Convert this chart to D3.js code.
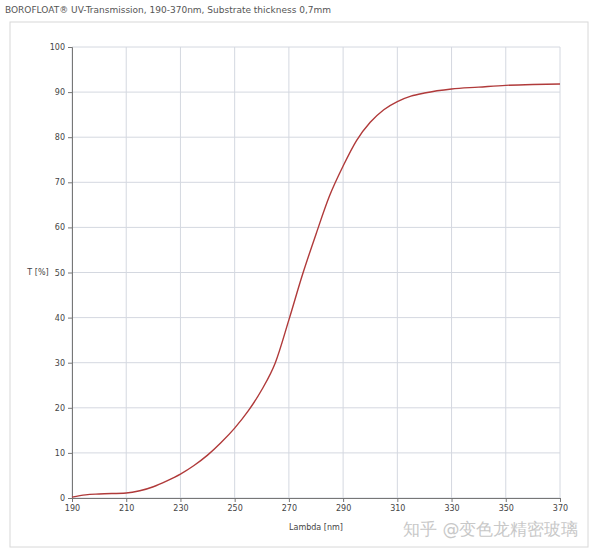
<!DOCTYPE html>
<html><head><meta charset="utf-8">
<script src="https://cdn.jsdelivr.net/npm/d3@7"></script>
<style>body{margin:0;background:#fff}text{font-family:"DejaVu Sans",sans-serif}</style>
</head><body><svg id="c" width="600" height="555"></svg>
<script>
const wavelength=[190,195,200,210,215,220,225,230,235,240,245,250,255,260,265,270,275,280,285,290,295,300,305,310,315,320,330,340,350,360,370];
const transmission=[0.2,0.7,0.9,1.1,1.6,2.5,3.8,5.3,7.2,9.5,12.3,15.5,19.3,24,30,39.5,49.5,58.5,67,73.6,79.3,83.3,86.1,87.9,89.1,89.8,90.7,91.1,91.5,91.7,91.8];
const xTicks=[190,210,230,250,270,290,310,330,350,370];
const yTicks=[0,10,20,30,40,50,60,70,80,90,100];
const svg=d3.select("#c");
svg.append("rect").attr("x",10).attr("y",22).attr("width",578).attr("height",525).attr("fill","none").attr("stroke","#d8d8d8");
svg.append("text").attr("x",5).attr("y",13).attr("font-size",9).attr("fill","#555").text("BOROFLOAT® UV-Transmission, 190-370nm, Substrate thickness 0,7mm");
const x=d3.scaleLinear().domain([190,370]).range([72,560]);
const y=d3.scaleLinear().domain([0,100]).range([498,47]);
const g=svg.append("g");
g.selectAll(".vg").data(xTicks).join("line").attr("x1",d=>x(d)).attr("x2",d=>x(d)).attr("y1",47).attr("y2",498).attr("stroke","#d4d8e0");
g.selectAll(".hg").data(yTicks).join("line").attr("x1",72).attr("x2",560).attr("y1",d=>y(d)).attr("y2",d=>y(d)).attr("stroke","#d4d8e0");
const xa=svg.append("g").attr("transform","translate(0,498)").call(d3.axisBottom(x).tickValues(xTicks).tickSize(4).tickFormat(d3.format("d")));
const ya=svg.append("g").attr("transform","translate(72,0)").call(d3.axisLeft(y).tickValues(yTicks).tickSize(4));
[xa,ya].forEach(a=>{a.selectAll("path,line").attr("stroke","#777");a.selectAll("text").attr("font-size",8).attr("fill","#444");});
svg.append("text").attr("x",316).attr("y",530).attr("text-anchor","middle").attr("font-size",8).attr("fill","#444").text("Lambda [nm]");
svg.append("text").attr("x",38).attr("y",275).attr("text-anchor","middle").attr("font-size",8).attr("fill","#444").text("T [%]");
svg.append("path").datum(wavelength.map((w,i)=>[w,transmission[i]])).attr("fill","none").attr("stroke","#b03a3a").attr("stroke-width",1.4)
 .attr("d",d3.line().x(d=>x(d[0])).y(d=>y(d[1])).curve(d3.curveMonotoneX));
svg.append("text").attr("x",403).attr("y",535).attr("font-size",17).attr("fill","#c8c8c8").attr("font-family","Noto Sans CJK SC").text("知乎 @变色龙精密玻璃");
</script></body></html>
